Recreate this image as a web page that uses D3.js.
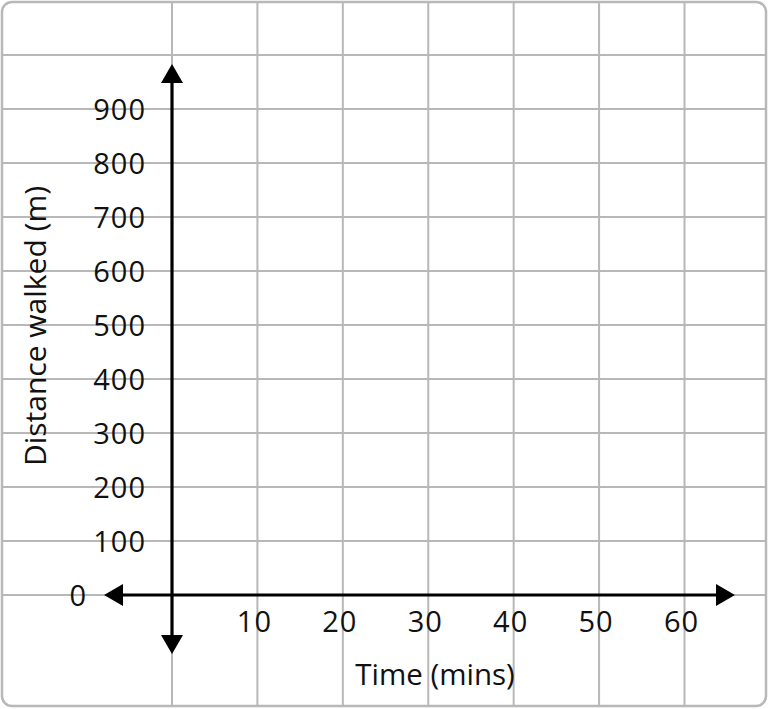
<!DOCTYPE html>
<html>
<head>
<meta charset="utf-8">
<script src="https://cdn.jsdelivr.net/npm/d3@7"></script>
<style>
  body { margin: 0; background: #fff; }
  text { font-family: "Open Sans", Lato, sans-serif; fill: #111; }
</style>
</head>
<body>
<div id="chart"></div>
<script>
// Values
var xTicks = [10, 20, 30, 40, 50, 60];
var yTicks = [100, 200, 300, 400, 500, 600, 700, 800, 900];
var xGrid = [0, 10, 20, 30, 40, 50, 60];
var yGrid = [0, 100, 200, 300, 400, 500, 600, 700, 800, 900, 1000];
var xTitle = "Time (mins)";
var yTitle = "Distance walked (m)";

var width = 768, height = 709;

var svg = d3.select("#chart").append("svg")
    .attr("width", width)
    .attr("height", height);

// scales: 0 sits at the axes crossing
var x = d3.scaleLinear().domain([0, 60]).range([172, 684.5]);
var y = d3.scaleLinear().domain([0, 900]).range([595, 109]);

// clip grid to the rounded frame
svg.append("clipPath").attr("id", "frame")
    .append("rect")
    .attr("x", 2).attr("y", 2)
    .attr("width", 764).attr("height", 704)
    .attr("rx", 10);

var grid = svg.append("g").attr("clip-path", "url(#frame)");

grid.selectAll("line.v")
    .data(xGrid)
    .enter().append("line")
    .attr("class", "v")
    .attr("x1", function (d) { return x(d); })
    .attr("x2", function (d) { return x(d); })
    .attr("y1", 0).attr("y2", height)
    .attr("stroke", "#b8b8b8")
    .attr("stroke-width", 2);

grid.selectAll("line.h")
    .data(yGrid)
    .enter().append("line")
    .attr("class", "h")
    .attr("y1", function (d) { return y(d); })
    .attr("y2", function (d) { return y(d); })
    .attr("x1", 0).attr("x2", width)
    .attr("stroke", "#b8b8b8")
    .attr("stroke-width", 2);

svg.append("rect")
    .attr("x", 2).attr("y", 2)
    .attr("width", 764).attr("height", 704)
    .attr("rx", 10)
    .attr("fill", "none")
    .attr("stroke", "#b8b8b8")
    .attr("stroke-width", 2.5);

// axes with arrow heads at both ends
var defs = svg.append("defs");
defs.append("marker")
    .attr("id", "arrow")
    .attr("viewBox", "0 0 19 22")
    .attr("refX", 1).attr("refY", 11)
    .attr("markerWidth", 19).attr("markerHeight", 22)
    .attr("markerUnits", "userSpaceOnUse")
    .attr("orient", "auto-start-reverse")
    .append("path")
    .attr("d", "M0,0L19,11L0,22Z")
    .attr("fill", "#000");

svg.append("line")
    .attr("x1", x(-5.85)).attr("x2", x(63.8))
    .attr("y1", y(0)).attr("y2", y(0))
    .attr("stroke", "#000").attr("stroke-width", 3.2)
    .attr("marker-start", "url(#arrow)")
    .attr("marker-end", "url(#arrow)");

svg.append("line")
    .attr("x1", x(0)).attr("x2", x(0))
    .attr("y1", y(-76)).attr("y2", y(950))
    .attr("stroke", "#000").attr("stroke-width", 3.2)
    .attr("marker-start", "url(#arrow)")
    .attr("marker-end", "url(#arrow)");

// tick labels
svg.selectAll("text.xt")
    .data(xTicks)
    .enter().append("text")
    .attr("class", "xt")
    .attr("x", function (d) { return x(d) - 3; })
    .attr("y", y(0) + 37)
    .attr("text-anchor", "middle")
    .attr("font-size", 29)
    .attr("letter-spacing", 1)
    .text(function (d) { return d; });

svg.selectAll("text.yt")
    .data(yTicks)
    .enter().append("text")
    .attr("class", "yt")
    .attr("x", 146)
    .attr("y", function (d) { return y(d) + 11; })
    .attr("text-anchor", "end")
    .attr("font-size", 29)
    .attr("letter-spacing", 1)
    .text(function (d) { return d; });

svg.append("text")
    .attr("x", 86)
    .attr("y", y(0) + 11)
    .attr("text-anchor", "end")
    .attr("font-size", 29)
    .text(0);

// axis titles
svg.append("text")
    .attr("x", 435)
    .attr("y", 685)
    .attr("text-anchor", "middle")
    .attr("font-size", 29.5)
    .text(xTitle);

svg.append("text")
    .attr("transform", "translate(46," + 326 + ") rotate(-90)")
    .attr("text-anchor", "middle")
    .attr("font-size", 30)
    .text(yTitle);
</script>
</body>
</html>
